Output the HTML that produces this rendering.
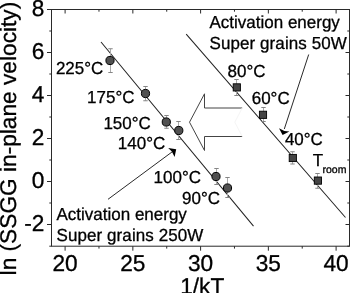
<!DOCTYPE html><html><head><meta charset="utf-8"><style>html,body{margin:0;padding:0;background:#fff;width:350px;height:293px;overflow:hidden}svg{display:block}text{font-family:"Liberation Sans",Arial,sans-serif;fill:#000;stroke:#000;stroke-width:0.3px;text-rendering:geometricPrecision}</style></head><body>
<svg width="350" height="293" viewBox="0 0 350 293">
<rect width="350" height="293" fill="#fff"/>
<rect x="51.5" y="9.5" width="298.0" height="236.7" fill="none" stroke="#2a2a2a" stroke-width="1"/>
<path d="M49.3,246.20H51.5M347.3,246.20H349.5M47.0,224.50H51.5M345.5,224.50H349.5M49.3,203.00H51.5M347.3,203.00H349.5M47.0,181.50H51.5M345.5,181.50H349.5M49.3,160.00H51.5M347.3,160.00H349.5M47.0,138.50H51.5M345.5,138.50H349.5M49.3,117.00H51.5M347.3,117.00H349.5M47.0,95.50H51.5M345.5,95.50H349.5M49.3,74.00H51.5M347.3,74.00H349.5M47.0,52.50H51.5M345.5,52.50H349.5M49.3,31.00H51.5M347.3,31.00H349.5M47.0,9.50H51.5M345.5,9.50H349.5M65.1,246.2V250.7M65.1,9.5V13.5M98.97,246.2V248.6M98.97,9.5V11.7M132.85,246.2V250.7M132.85,9.5V13.5M166.72,246.2V248.6M166.72,9.5V11.7M200.6,246.2V250.7M200.6,9.5V13.5M234.47,246.2V248.6M234.47,9.5V11.7M268.35,246.2V250.7M268.35,9.5V13.5M302.23,246.2V248.6M302.23,9.5V11.7M336.1,246.2V250.7M336.1,9.5V13.5" stroke="#2a2a2a" stroke-width="1" fill="none"/>
<text transform="translate(44.4,16.10) scale(0.99,1)" font-size="22.9" text-anchor="end">8</text>
<text transform="translate(44.4,59.10) scale(0.99,1)" font-size="22.9" text-anchor="end">6</text>
<text transform="translate(44.4,102.10) scale(0.99,1)" font-size="22.9" text-anchor="end">4</text>
<text transform="translate(44.4,145.10) scale(0.99,1)" font-size="22.9" text-anchor="end">2</text>
<text transform="translate(44.4,188.10) scale(0.99,1)" font-size="22.9" text-anchor="end">0</text>
<text transform="translate(44.4,231.10) scale(0.99,1)" font-size="22.9" text-anchor="end">-2</text>
<text transform="translate(65.00,270.9) scale(0.99,1)" font-size="22.9" text-anchor="middle">20</text>
<text transform="translate(132.75,270.9) scale(0.99,1)" font-size="22.9" text-anchor="middle">25</text>
<text transform="translate(200.50,270.9) scale(0.99,1)" font-size="22.9" text-anchor="middle">30</text>
<text transform="translate(268.25,270.9) scale(0.99,1)" font-size="22.9" text-anchor="middle">35</text>
<text transform="translate(336.00,270.9) scale(0.99,1)" font-size="22.9" text-anchor="middle">40</text>
<text transform="translate(180.2,293.8) scale(0.99,1)" font-size="22.9">1/kT</text>
<text transform="translate(16.2,275.4) rotate(-90)" x="0" y="0" font-size="22.7">ln (SSGG in-plane velocity)</text>
<path d="M101,42L253.5,226.2M186.2,34.2L345.5,217.5" stroke="#262626" stroke-width="1.05" fill="none"/>
<path d="M242.2,108H204.5V93.8L189.5,122.2L204.5,150.5V136.5H242.2" stroke="#444" stroke-width="1" fill="none" stroke-linejoin="miter"/>
<path d="M242.2,108L234.8,122.2L242.2,136.5" stroke="#f5f5f5" stroke-width="1" fill="none"/>
<path d="M108,199.3L172.5,151.6" stroke="#2a2a2a" stroke-width="1" fill="none"/>
<path d="M176.2,149.2L168.2,148L171.8,151.6L174.6,157Z" fill="#000"/>
<path d="M308.7,54.5L284.3,129" stroke="#2a2a2a" stroke-width="1" fill="none"/>
<path d="M282.6,135L279,128.2L284.4,131L289.4,131.6Z" fill="#000"/>
<path d="M110.5,48.8V72.5" stroke="#aaa" stroke-width="1" fill="none"/><path d="M108.3,48.8H112.7M108.3,72.5H112.7" stroke="#858585" stroke-width="1.1" fill="none"/>
<path d="M145.5,86.5V100.7" stroke="#aaa" stroke-width="1" fill="none"/><path d="M143.3,86.5H147.7M143.3,100.7H147.7" stroke="#858585" stroke-width="1.1" fill="none"/>
<path d="M166.5,115.5V128.3" stroke="#aaa" stroke-width="1" fill="none"/><path d="M164.3,115.5H168.7M164.3,128.3H168.7" stroke="#858585" stroke-width="1.1" fill="none"/>
<path d="M178.5,121.5V139.5" stroke="#aaa" stroke-width="1" fill="none"/><path d="M176.3,121.5H180.7M176.3,139.5H180.7" stroke="#858585" stroke-width="1.1" fill="none"/>
<path d="M216.5,168.5V184.5" stroke="#aaa" stroke-width="1" fill="none"/><path d="M214.3,168.5H218.7M214.3,184.5H218.7" stroke="#858585" stroke-width="1.1" fill="none"/>
<path d="M227.5,177.5V197.5" stroke="#aaa" stroke-width="1" fill="none"/><path d="M225.3,177.5H229.7M225.3,197.5H229.7" stroke="#858585" stroke-width="1.1" fill="none"/>
<path d="M236.5,79.5V95.5" stroke="#aaa" stroke-width="1" fill="none"/><path d="M234.3,79.5H238.7M234.3,95.5H238.7" stroke="#858585" stroke-width="1.1" fill="none"/>
<path d="M263.5,107.5V121.5" stroke="#aaa" stroke-width="1" fill="none"/><path d="M261.3,107.5H265.7M261.3,121.5H265.7" stroke="#858585" stroke-width="1.1" fill="none"/>
<path d="M292.5,151.8V164" stroke="#aaa" stroke-width="1" fill="none"/><path d="M290.3,151.8H294.7M290.3,164H294.7" stroke="#858585" stroke-width="1.1" fill="none"/>
<path d="M317.5,173.5V188.2" stroke="#aaa" stroke-width="1" fill="none"/><path d="M315.3,173.5H319.7M315.3,188.2H319.7" stroke="#858585" stroke-width="1.1" fill="none"/>
<circle cx="110" cy="60.5" r="4.1" fill="#505050" stroke="#000" stroke-width="1"/>
<circle cx="145.5" cy="93.5" r="4.1" fill="#505050" stroke="#000" stroke-width="1"/>
<circle cx="166.3" cy="122" r="4.1" fill="#505050" stroke="#000" stroke-width="1"/>
<circle cx="178.8" cy="130.5" r="4.1" fill="#505050" stroke="#000" stroke-width="1"/>
<circle cx="216" cy="176.5" r="4.1" fill="#505050" stroke="#000" stroke-width="1"/>
<circle cx="227.5" cy="188" r="4.1" fill="#505050" stroke="#000" stroke-width="1"/>
<rect x="233.20" y="83.80" width="7.2" height="7.2" fill="#444" stroke="#000" stroke-width="0.9"/>
<rect x="259.40" y="111.20" width="7.2" height="7.2" fill="#444" stroke="#000" stroke-width="0.9"/>
<rect x="289.20" y="154.40" width="7.2" height="7.2" fill="#444" stroke="#000" stroke-width="0.9"/>
<rect x="314.30" y="177.00" width="7.2" height="7.2" fill="#444" stroke="#000" stroke-width="0.9"/>
<text transform="translate(55.9,73.5) scale(0.977,1)" font-size="17.4">225°C</text>
<text transform="translate(87.1,102.8) scale(0.977,1)" font-size="17.4">175°C</text>
<text transform="translate(103.4,128.5) scale(0.977,1)" font-size="17.4">150°C</text>
<text transform="translate(117.8,148.8) scale(0.977,1)" font-size="17.4">140°C</text>
<text transform="translate(153.6,183.2) scale(0.977,1)" font-size="17.4">100°C</text>
<text transform="translate(182.0,203.5) scale(0.977,1)" font-size="17.4">90°C</text>
<text transform="translate(227.6,76.5) scale(0.977,1)" font-size="17.4">80°C</text>
<text transform="translate(251.7,103.8) scale(0.977,1)" font-size="17.4">60°C</text>
<text transform="translate(284.9,144.5) scale(0.977,1)" font-size="17.4">40°C</text>
<text transform="translate(312.7,166.2) scale(0.977,1)" font-size="17.4">T</text>
<text x="322.5" y="173.1" font-size="10.5">room</text>
<text transform="translate(209.5,27.8) scale(0.977,1)" font-size="17.4">Activation energy</text>
<text transform="translate(209.5,48.8) scale(0.977,1)" font-size="17.4" style="letter-spacing:0.09px">Super grains 50W</text>
<text transform="translate(56.5,220.1) scale(0.977,1)" font-size="17.4">Activation energy</text>
<text transform="translate(56.5,241) scale(0.977,1)" font-size="17.4" style="letter-spacing:0.09px">Super grains 250W</text>
</svg></body></html>
